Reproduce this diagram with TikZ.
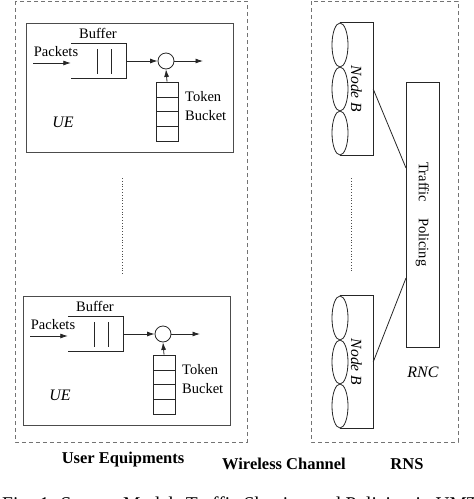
\documentclass[tikz,border=0pt]{standalone}
\usepackage{graphicx}
\usepackage{fontspec}
\setmainfont{Liberation Serif}
\usetikzlibrary{arrows.meta}
\tikzset{
  region/.style={draw=black!55, dashed, dash pattern=on 4pt off 3pt, line width=0.9pt},
  uebox/.style={draw=black!70, line width=1pt},
  part/.style={draw=black!85, line width=0.8pt},
  flow/.style={-{Latex[length=7.5pt,width=5pt]}, black!85, line width=0.8pt},
  dots/.style={black!70, line width=0.9pt, dash pattern=on 0.8pt off 2pt},
  lbl/.style={font=\fontsize{14.5}{19}\selectfont, inner sep=0pt},
  ital/.style={font=\fontsize{16}{18}\selectfont\itshape, inner sep=0pt},
  group/.style={font=\fontsize{16.5}{18}\selectfont\bfseries, inner sep=0pt},
}

\begin{document}
\begin{tikzpicture}[x=1pt,y=-1pt]
\path[use as bounding box, clip] (0,0) rectangle (474,499);

% the two regions
\draw[region] (15,1) rectangle (247,442);
\draw[region] (311,1) rectangle (458,442);

% user equipments with token bucket shaper
\foreach \i/\ox/\oy in {1/26/23, 2/23/296} {
  \begin{scope}[shift={(\ox,\oy)}]
    \draw[uebox] (0,0) rectangle (207,129);
    \node[ital] (ue\i) at (37,99) {UE};
    \node[minimum width=55pt, minimum height=34pt, inner sep=0pt] (buf\i) at (72.5,38) {};
    \draw[part] (buf\i.north west) -- (buf\i.north east) -- (buf\i.south east) -- (buf\i.south west);
    \draw[part] (71,26) -- (71,51) (85,26) -- (85,51);
    \node[lbl] (buflbl\i) at (72,10) {Buffer};
    \node[lbl] (pkt\i) at (30,29) {Packets};
    \coordinate (pktsrc\i) at (7,40);
    \node[part, circle, minimum size=16pt, inner sep=0pt] (srv\i) at (140,38) {};
    \coordinate (out\i) at (177,38);
    \node[part, minimum width=22pt, minimum height=59pt, inner sep=0pt] (bkt\i) at (141,88.5) {};
    \foreach \y in {74,88,103} \draw[part] (130,\y) -- (152,\y);
    \node[lbl, anchor=west, align=left] (tok\i) at (159,83.5) {Token\\Bucket};
    \draw[flow] (pktsrc\i) -- (pktsrc\i -| buf\i.west);
    \draw[flow] (buf\i.east) -- (srv\i.west);
    \draw[flow] (srv\i.east) -- (out\i);
    \draw[flow] (bkt\i.north) -- (srv\i.south);
  \end{scope}
}
\draw[dots] (122,178) -- (122,275);

% radio network subsystem
\node[part, minimum width=33pt, minimum height=265pt, inner sep=0pt] (tp) at (422.5,214.5)
  {\rotatebox{-90}{\fontsize{14.5}{16}\selectfont Traffic\hspace{1.1em}Policing}};
\coordinate (tpa1) at (406,168);
\coordinate (tpa2) at (406,278);
\foreach \i/\oy in {1/23, 2/296} {
  \node[minimum width=33pt, minimum height=132pt, inner sep=0pt] (nodeb\i) at (356.5,\oy+66)
    {\rotatebox{-90}{\fontsize{15.5}{18}\selectfont\itshape Node B}};
  \draw[part] (nodeb\i.north west) -- (nodeb\i.north east) -- (nodeb\i.south east) -- (nodeb\i.south west);
  \foreach \k in {0,1,2}
    \draw[part] (340,{\oy+22+44*\k}) ellipse [x radius=8, y radius=22];
  \draw[part] (nodeb\i.east) -- (tpa\i);
}
\draw[dots] (351,178) -- (351,273);
\node[ital] (rnc) at (423,372) {RNC};

% labels and caption
\node[group] (uelbl) at (123,460) {User Equipments};
\node[group] (chlbl) at (284,464) {Wireless Channel};
\node[group] (rnslbl) at (407,464) {RNS};
\node[font=\fontsize{19.5}{22}\selectfont, anchor=base west, inner sep=0pt] (caption) at (2,510)
  {Fig. 1. System Model: Traffic Shaping and Policing in UMTS};
\end{tikzpicture}
\end{document}
